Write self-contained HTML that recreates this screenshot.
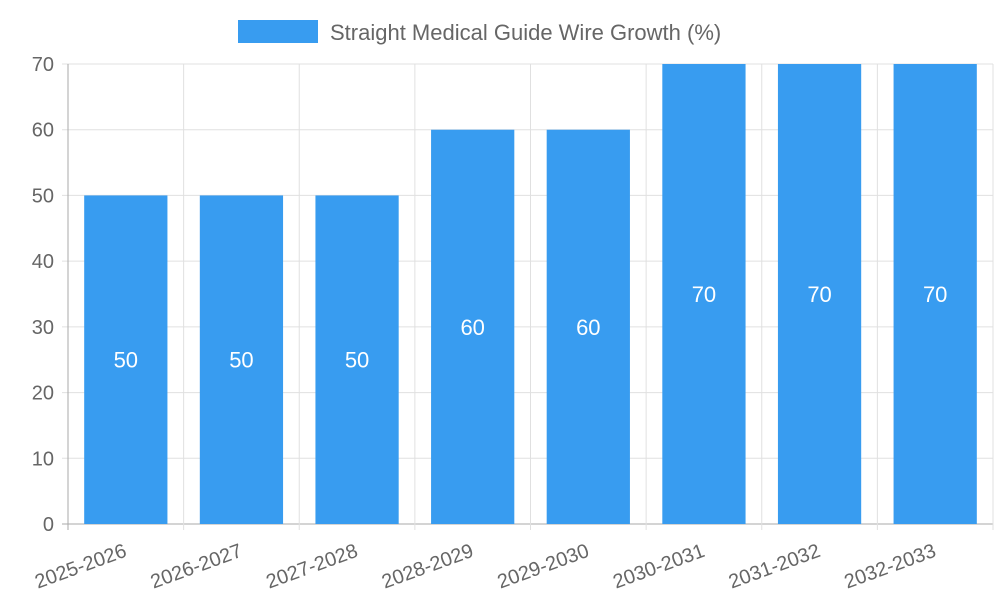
<!DOCTYPE html>
<html><head><meta charset="utf-8"><style>
body{margin:0;background:#fff;}
svg{display:block;font-family:"Liberation Sans",sans-serif;}
</style></head><body>
<svg id="chart" width="1000" height="600">
<g id="legend">
<rect x="238" y="20" width="80" height="23" fill="#389cf0"/>
<text x="330" y="40" font-size="22" fill="#666">Straight Medical Guide Wire Growth (%)</text>
</g>
<g id="grid"></g>
<g id="bars"></g>
<g id="labels"></g>
</svg>
<script>
const categories=["2025-2026","2026-2027","2027-2028","2028-2029","2029-2030","2030-2031","2031-2032","2032-2033"];
const values=[50,50,50,60,60,70,70,70];
const yTicks=[0,10,20,30,40,50,60,70];
const L=68,R=993,T=64,B=524,yMax=70;
const ns="http://www.w3.org/2000/svg";
const step=(R-L)/categories.length;
const y=v=>B-(v/yMax)*(B-T);
const x=i=>L+i*step;
function mk(tag,attrs,parent,text){const e=document.createElementNS(ns,tag);for(const k in attrs)e.setAttribute(k,attrs[k]);if(text!==undefined)e.textContent=text;document.getElementById(parent).appendChild(e);return e;}
yTicks.forEach(t=>{
 const g=mk("line",{x1:L-6,x2:R,y1:y(t),y2:y(t),stroke:t===0?"#aaa":"#e0e0e0","stroke-width":1},"grid");
 
 
 const lb=mk("text",{x:L-14,y:y(t)+7,"text-anchor":"end","font-size":20,fill:"#666"},"labels",t);
 
 
});
for(let i=0;i<=categories.length;i++){
 const g=mk("line",{x1:x(i),x2:x(i),y1:T,y2:B+6,stroke:i===0?"#aaa":"#e0e0e0","stroke-width":1},"grid");
 
 
}
categories.forEach((c,i)=>{
 const bw=step*0.72,bx=x(i)+(step-bw)/2;
 const r=mk("rect",{x:bx,y:y(values[i]),width:bw,height:B-y(values[i]),fill:"#389cf0"},"bars");
 
 
 const v=mk("text",{x:bx+bw/2,y:(y(values[i])+B)/2+8,"text-anchor":"middle","font-size":22,fill:"#fff"},"bars",values[i]);
 
 
 const cx=x(i)+step/2+2;
 const lb=mk("text",{x:cx,y:B+32,"text-anchor":"end","font-size":20,fill:"#666",transform:`rotate(-20 ${cx} ${B+32})`},"labels",c);
 
 
});
</script>
</body></html>
